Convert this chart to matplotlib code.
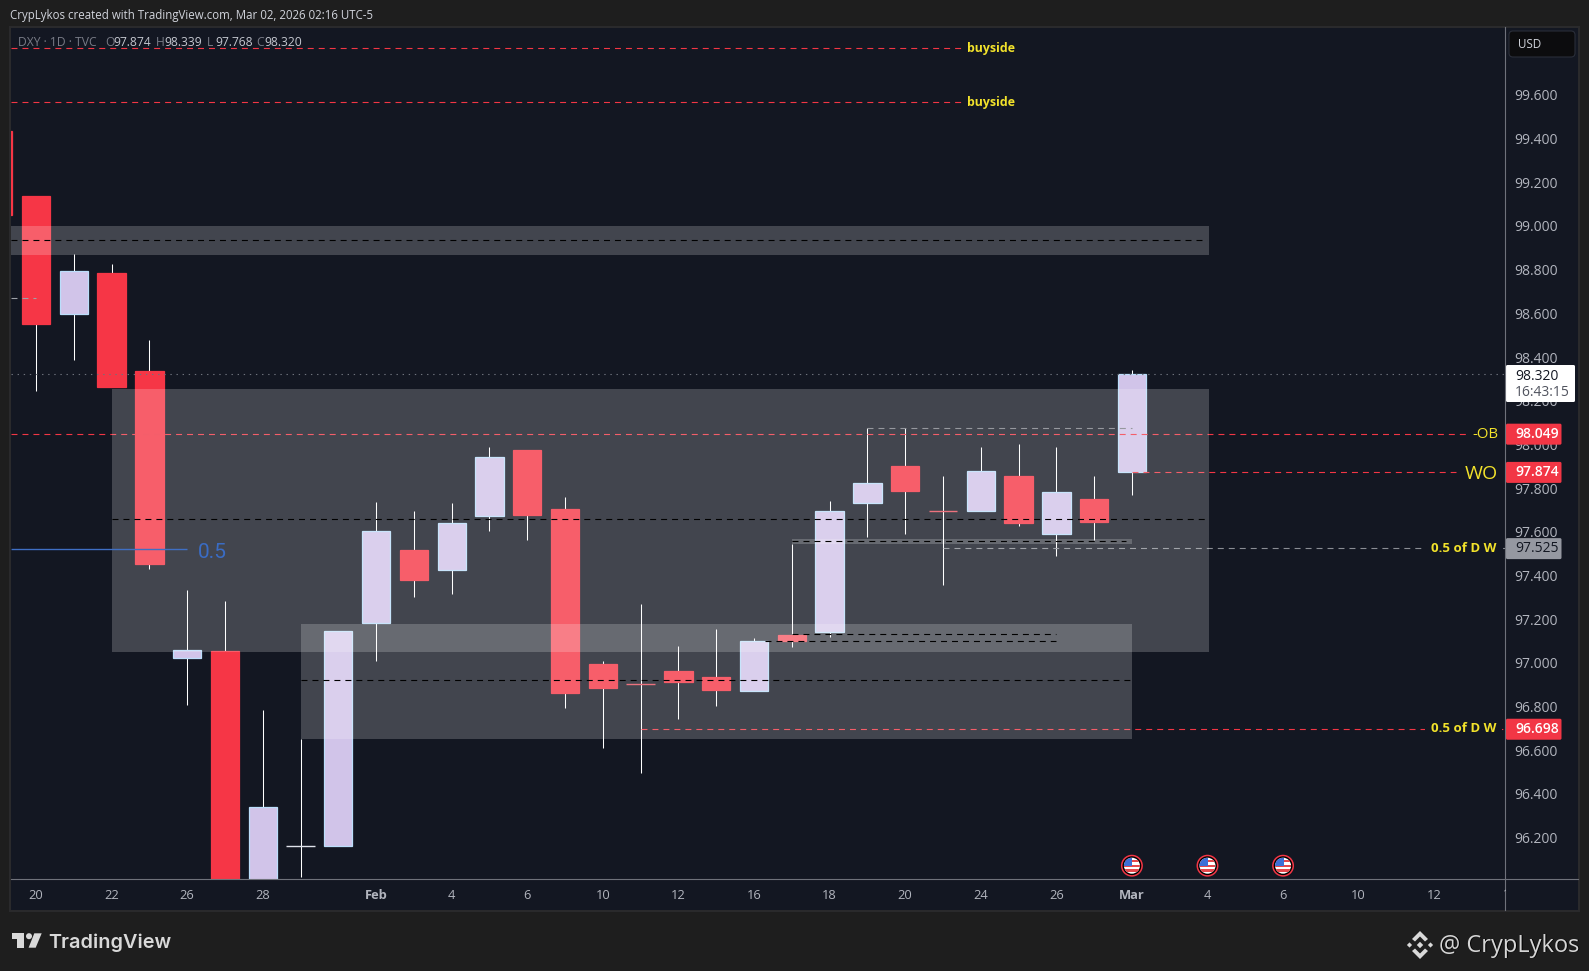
# DXY daily chart, TradingView dark style
import matplotlib
matplotlib.use('Agg')
from matplotlib import pyplot as plt
from matplotlib.patches import Rectangle, Circle, Polygon, FancyBboxPatch

W, H = 1589, 971
# price / bar scale of the picture, in pixels
X0, BAR = 36.0, 37.79
Y0, UNIT = 837.5, 218.4
BASE = 96.2

bars = list(range(-1, 30))
opens = [99.433, 99.136, 98.598, 98.783, 98.334, 97.021, 97.053, 95.95, 96.159, 96.163,
         97.183, 97.517, 97.424, 97.670, 97.972, 97.703, 96.993, 96.905, 96.961, 96.937,
         96.873, 97.125, 97.140, 97.731, 97.899, 97.696, 97.694, 97.853, 97.589, 97.752, 97.874]
highs = [99.433, 99.136, 98.872, 98.825, 98.477, 97.332, 97.285, 96.784, 96.653, 97.146,
         97.735, 97.693, 97.731, 97.986, 97.972, 97.758, 97.007, 97.271, 97.077, 97.155,
         97.114, 97.546, 97.743, 98.074, 98.076, 97.853, 97.986, 98.004, 97.986, 97.853, 98.339]
lows = [99.048, 98.245, 98.385, 98.264, 97.429, 96.808, 95.85, 95.9, 96.02, 96.163,
        97.007, 97.299, 97.313, 97.605, 97.564, 96.794, 96.608, 96.497, 96.743, 96.803,
        96.873, 97.07, 97.117, 97.575, 97.589, 97.355, 97.694, 97.625, 97.488, 97.56, 97.768]
closes = [99.048, 98.552, 98.793, 98.264, 97.452, 97.058, 95.9, 96.339, 96.163, 97.146,
          97.605, 97.378, 97.642, 97.944, 97.675, 96.863, 96.886, 96.900, 96.914, 96.877,
          97.100, 97.102, 97.693, 97.821, 97.786, 97.693, 97.880, 97.639, 97.783, 97.644, 98.320]

x_ticks = [0, 2, 4, 6, 9, 11, 13, 15, 17, 19, 21, 23, 25, 27, 29, 31, 33, 35, 37]
x_labels = ['20', '22', '26', '28', 'Feb', '4', '6', '10', '12', '16', '18', '20', '24', '26',
            'Mar', '4', '6', '10', '12']
y_ticks = [96.2, 96.4, 96.6, 96.8, 97.0, 97.2, 97.4, 97.6, 97.8, 98.0, 98.2, 98.4, 98.6,
           98.8, 99.0, 99.2, 99.4, 99.6]
flag_bars = [29, 31, 33]

last_price = 98.32
ob_price = 98.049
wo_price = 97.874
half_dw = 97.525
half_dw_low = 96.698
buyside = [99.816, 99.568]

RED = '#F63646'
LIGHT = '#D1C4E9'
EDGE = '#BBDEFB'
PANEL = '#131722'
OUTER = '#1E1E1E'
YELLOW = '#F2E22B'
AXIS_TXT = '#B2B5BE'
FONT = 'Open Sans'

plt.rcParams['font.family'] = FONT
plt.rcParams['lines.scale_dashes'] = False
DASH = (0, (4.3, 3.6))


def px_x(bar):
    return X0 + BAR * bar


def bar_x(px):
    return (px - X0) / BAR


def price_y(px):
    return BASE + (Y0 - px) / UNIT


def y_px(price):
    return Y0 - (price - BASE) * UNIT


fig = plt.figure(figsize=(W / 100, H / 100), dpi=100, facecolor=OUTER)

# backdrop panel
back = fig.add_axes([0, 0, 1, 1], zorder=0)
back.set_xlim(0, W)
back.set_ylim(H, 0)
back.axis('off')
back.add_patch(Rectangle((9, 26), 1571, 886, fc='#2A2A2C', ec='none'))
back.add_patch(Rectangle((11, 28), 1567, 882, fc=PANEL, ec='none'))

# main chart
ax = fig.add_axes([11 / W, 1 - 879 / H, (1505 - 11) / W, (879 - 27) / H], zorder=1)
ax.patch.set_alpha(0)
ax.set_xlim(bar_x(11), bar_x(1505))
ax.set_ylim(price_y(879), price_y(27))
for s in ax.spines.values():
    s.set_visible(False)

ax.yaxis.tick_right()
ax.set_yticks(y_ticks)
ax.set_yticklabels(['%.3f' % v for v in y_ticks], color=AXIS_TXT, fontsize=10)
ax.set_xticks(x_ticks)
ax.set_xticklabels(x_labels, color=AXIS_TXT, fontsize=9.3)
ax.tick_params(axis='y', length=0, pad=6.6)
ax.tick_params(axis='x', length=0, pad=7)
for lab in ax.get_xticklabels():
    if lab.get_text() in ('Feb', 'Mar'):
        lab.set_fontweight('bold')

# candles
for b, o, h, l, c in zip(bars, opens, highs, lows, closes):
    up = c >= o
    ax.vlines(b, l, h, color='white', lw=0.75, zorder=2, snap=True)
    if abs(c - o) < 0.012:
        col = '#E0E3EB' if up else '#E8505E'
        ax.hlines((o + c) / 2, b - 0.38, b + 0.38, color=col, lw=1.0, zorder=2.1)
    else:
        ax.bar(b, c - o, bottom=o, width=0.75, color=LIGHT if up else RED,
               edgecolor=EDGE if up else RED, lw=0.9, zorder=2.1)

left, right = bar_x(11), bar_x(1505)

# lines under the boxes
ax.hlines(last_price, left, right, color='#6E727C', lw=0.8, ls=(0, (1.0, 3.4)), zorder=3)
for p in buyside:
    ax.hlines(p, left, bar_x(961), color='#F23645', lw=0.8, ls=DASH, zorder=3)
ax.hlines(ob_price, left, bar_x(1467), color='#F23645', lw=0.8, ls=DASH, zorder=3)
ax.hlines(wo_price, 29, bar_x(1456), color='#F23645', lw=0.8, ls=DASH, zorder=3)
ax.hlines(half_dw_low, 16, right, color='#F23645', lw=0.8, ls=DASH, zorder=3)
ax.hlines(half_dw, 24, right, color='#8A8D94', lw=0.8, ls=DASH, zorder=3)
ax.hlines(98.076, 22, 29, color='#7C7F86', lw=0.8, ls=DASH, zorder=3)
ax.hlines(98.672, left, 0, color='#9EA1A8', lw=0.8, ls=DASH, zorder=3)
ax.hlines(97.519, left, 2, color='black', lw=0.8, zorder=3)
ax.hlines(97.522, left, 4, color='#3F6FC4', lw=1.0, zorder=5)

# zones
zones = [(left, 31.03, 98.866, 99.0), (2, 31.03, 97.048, 98.255), (7, 29, 96.651, 97.179), (20, 29, 97.546, 97.569)]
for x1, x2, y1, y2 in zones:
    ax.add_patch(Rectangle((x1, y1), x2 - x1, y2 - y1, fc='white', ec='none', alpha=0.2, zorder=4))

# black dashed midlines
ax.hlines(98.935, left, 31, color='black', lw=0.8, ls=DASH, zorder=5)
ax.hlines(97.66, 2, 31, color='black', lw=0.8, ls=DASH, zorder=5)
ax.hlines(96.92, 7, 29, color='black', lw=0.8, ls=DASH, zorder=5)
ax.hlines(97.557, 20, 28.85, color='black', lw=0.8, ls=DASH, zorder=5)
ax.hlines(97.132, 20, 27, color='black', lw=0.8, ls=DASH, zorder=5)
ax.hlines(97.100, 19.3, 27, color='black', lw=0.8, ls=DASH, zorder=5)

ax.text(bar_x(198), 97.507, '0.5', color='#3A6CC4', fontsize=15, family='Roboto', va='center', zorder=6)

# everything on top, in pixels
top = fig.add_axes([0, 0, 1, 1], zorder=2)
top.patch.set_alpha(0)
top.set_xlim(0, W)
top.set_ylim(H, 0)
top.axis('off')

top.plot([1505, 1505], [27, 910], color='#6F727B', lw=0.8)
top.plot([11, 1578], [879, 879], color='#6F727B', lw=0.8)

clip = Rectangle((1490, 880), 15.5, 28, transform=top.transData)
t16 = top.text(px_x(39), 894, '16', color=AXIS_TXT, fontsize=9.3, ha='center', va='center', clip_on=True)
t16.set_clip_path(clip)

top.text(10, 16, 'CrypLykos created with TradingView.com, Mar 02, 2026 02:16 UTC-5',
         color='#D1D4DC', fontsize=8.3, va='center')

# legend line
top.text(18, 42.5, 'DXY · 1D · TVC', color='#787B86', fontsize=8.7, va='center')
ohlc = [('O', 97.874, 105), ('H', 98.339, 156), ('L', 97.768, 207), ('C', 98.320, 256)]
for letter, val, xp in ohlc:
    top.text(xp, 42.5, letter, color='#787B86', fontsize=8.7, va='center')
    top.text(xp + 8, 42.5, '%.3f' % val, color='#C4C7CF', fontsize=8.7, va='center')

# level labels
for p in buyside:
    top.text(967, y_px(p) + 0.5, 'buyside', color=YELLOW, fontsize=8.9, fontweight='bold', va='center')
top.text(1472, y_px(ob_price) + 1, '-OB', color=YELLOW, fontsize=10.8, fontweight='medium', va='center')
top.text(1465, y_px(wo_price) + 2, 'WO', color=YELLOW, fontsize=14, fontweight='medium', va='center')
for p in (half_dw, half_dw_low):
    top.text(1431, y_px(p), '0.5 of D W', color=YELLOW, fontsize=9.5, fontweight='bold', va='center',
             bbox=dict(fc=PANEL, ec='none', pad=4.2))

# price tags
for p, fc, tc in [(ob_price, '#F23645', 'white'), (wo_price, '#F23645', 'white'),
                  (half_dw, '#9598A1', '#131722'), (half_dw_low, '#F23645', 'white')]:
    yc = y_px(p)
    top.add_patch(FancyBboxPatch((1506, yc - 10), 55.5, 21, boxstyle='round,pad=0,rounding_size=1.5',
                                 fc=fc, ec='none'))
    top.text(1515, yc + 0.5, '%.3f' % p, color=tc, fontsize=10, va='center',
             fontweight='semibold' if tc == 'white' else 'normal')

top.add_patch(FancyBboxPatch((1506, 365), 69, 37, boxstyle='round,pad=0,rounding_size=1.5', fc='white', ec='none'))
top.text(1515, 376.5, '%.3f' % last_price, color='#131722', fontsize=10, va='center')
top.text(1515, 392, '16:43:15', color='#50535E', fontsize=10, va='center')

# currency button
top.add_patch(FancyBboxPatch((1509, 31), 66, 26, boxstyle='round,pad=0,rounding_size=4',
                             fc='#0C0C0E', ec='#2A2E39', lw=0.8))
top.text(1518, 44.5, 'USD', color='#D1D4DC', fontsize=8.4, va='center')

# economic event flags
for b in flag_bars:
    cx, cy = px_x(b), 865.7
    top.add_patch(Circle((cx, cy), 10.2, fc='black', ec='#F23645', lw=1.1))
    disc = Circle((cx, cy), 8, fc='white', ec='none')
    top.add_patch(disc)
    for dy, hh in [(-6, 2.6), (-1, 2.6), (3.8, 2.4)]:
        s = Rectangle((cx - 8, cy + dy), 16, hh, fc='#E5484D', ec='none')
        top.add_patch(s)
        s.set_clip_path(disc)
    c = Rectangle((cx - 8, cy - 8), 8.5, 8.5, fc='#3D6FD6', ec='none')
    top.add_patch(c)
    c.set_clip_path(disc)

# TradingView logo
GREY = '#D9D9D9'
top.add_patch(Polygon([(12, 933.3), (24, 933.3), (24, 947.7), (17, 947.7), (17, 939.5), (12, 939.5)], fc=GREY, ec='none'))
top.add_patch(Circle((29, 936.2), 3, fc=GREY, ec='none'))
top.add_patch(Polygon([(34.3, 933.3), (41.7, 933.3), (35.7, 947.7), (28.6, 947.7)], fc=GREY, ec='none'))
top.text(48.5, 942.5, 'TradingView', color=GREY, fontsize=14.3, fontweight='semibold', family='Inter', va='center')

# binance mark and handle
bx, by = 1420, 945
for dx, dy, r in [(0, 0, 3.2), (-10.5, 0, 2.6), (10.5, 0, 2.6)]:
    top.add_patch(Polygon([(bx + dx - r, by + dy), (bx + dx, by + dy - r), (bx + dx + r, by + dy), (bx + dx, by + dy + r)],
                          fc=GREY, ec='none'))
top.add_patch(Polygon([(bx, by - 14), (bx + 8, by - 6), (bx + 5, by - 3.5), (bx, by - 8.5), (bx - 5, by - 3.5), (bx - 8, by - 6)],
                      fc=GREY, ec='none'))
top.add_patch(Polygon([(bx, by + 14), (bx + 8, by + 6), (bx + 5, by + 3.5), (bx, by + 8.5), (bx - 5, by + 3.5), (bx - 8, by + 6)],
                      fc=GREY, ec='none'))
top.text(1440, 946.5, '@ CrypLykos', color='black', fontsize=17, va='center')
top.text(1439, 945.5, '@ CrypLykos', color='#D6D6D6', fontsize=17, va='center')

fig.savefig('out.png', dpi=100, facecolor=OUTER)
